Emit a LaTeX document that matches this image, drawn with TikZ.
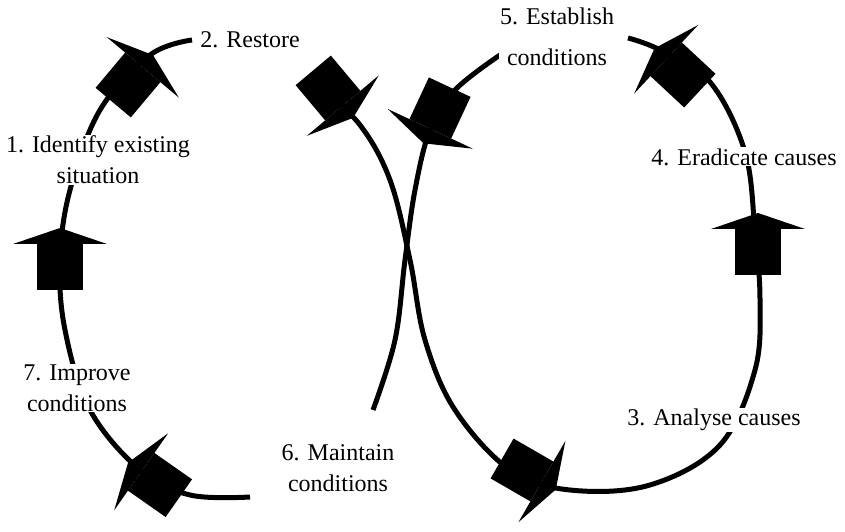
\documentclass[tikz,border=0pt]{standalone}
\usepackage{fontspec}
\setmainfont{Liberation Serif}
\begin{document}
\begin{tikzpicture}[x=1pt,y=1pt,
  loop/.style={line width=5pt},
  lbl/.style={fill=white,inner sep=1pt,align=center,font=\fontsize{24}{31}\selectfont},
  harrow/.pic={\fill (-23,-23) rectangle (23,23); \fill (-47,23) -- (47,23) -- (0,39) -- cycle;}]
\useasboundingbox (0,0) rectangle (845,532);
% curves (y = 532 - image y)
\draw[loop] plot[smooth,tension=0.6] coordinates {(192,492) (150,477) (100,422) (70,342) (60,272) (65,202) (90,122) (140,62) (190,37) (250,35)};
\draw[loop] plot[smooth,tension=0.6] coordinates {(318,447) (360,407) (390,352) (410,272) (425,192) (455,122) (510,62) (570,42) (650,47) (720,87) (755,162) (760,232) (755,300) (745,380) (710,450) (660,482) (628,494)};
\draw[loop] plot[smooth,tension=0.6] coordinates {(373,122) (395,192) (405,272) (415,342) (430,402) (455,442) (500,477)};
% labels
\node[lbl] (t1) at (98,372) {1. Identify existing\\situation};
\node[lbl] (t2) at (250,492) {2. Restore};
\node[lbl] (t5) at (557,495) {5. Establish\\[10pt]conditions};
\node[lbl] (t4) at (744,375) {4. Eradicate causes};
\node[lbl] (t3) at (714,112) {3. Analyse causes};
\node[lbl] (t6) at (338,64) {6. Maintain\\conditions};
\node[lbl] (t7) at (77,144) {7. Improve\\conditions};
% arrows
\pic[rotate=-40] at (128,447) {harrow};
\pic[rotate=-140] at (328,444) {harrow};
\pic[rotate=155] at (440,424) {harrow};
\pic[rotate=-120] at (522,62) {harrow};
\pic at (758,280) {harrow};
\pic[rotate=47] at (683,457) {harrow};
\pic[rotate=55] at (160,47) {harrow};
\pic at (60,265) {harrow};
\end{tikzpicture}
\end{document}
